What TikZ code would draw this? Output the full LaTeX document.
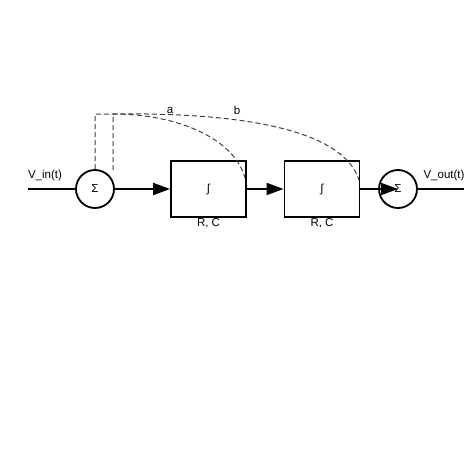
\documentclass[tikz,border=0pt]{standalone}
\usepackage{fontspec}
\setmainfont{Liberation Sans}
\usetikzlibrary{arrows.meta}
\begin{document}
\begin{tikzpicture}[x=1pt,y=-1pt,
  font=\fontsize{11.5}{13}\selectfont,
  sumnode/.style={circle,draw,line width=1.8pt,minimum size=38pt,inner sep=0pt},
  intbox/.style={rectangle,draw,line width=1.8pt,minimum width=75pt,minimum height=56pt,inner sep=0pt},
  wire/.style={line width=1.8pt},
  sigarrow/.style={wire,-{Triangle[length=17pt,width=12pt]}},
  fb/.style={draw=black!75,line width=1pt,dash pattern=on 5pt off 3pt},
  lbl/.style={inner sep=0pt}]
\useasboundingbox (0,0) rectangle (474,474);
\node[sumnode] (s1) at (95,189) {Σ};
\node[intbox] (b1) at (208.5,189) {∫};
\node[intbox] (b2) at (322,189) {∫};
\node[sumnode] (s2) at (398,189) {Σ};
\coordinate (in) at (28,189);
\coordinate (out) at (464,189);
\node[lbl] (vin) at (45,176) {V\_in(t)};
\node[lbl] (vout) at (444,176) {V\_out(t)};
\node[lbl] (rc1) at (208.5,223.5) {R, C};
\node[lbl] (rc2) at (322,223.5) {R, C};
\node[lbl] (la) at (170,110) {a};
\node[lbl] (lb) at (237,110) {b};
\draw[wire] (in) -- (s1.west);
\draw[sigarrow] (s1.east) -- (b1.west);
\draw[sigarrow] (b1.east) -- (b2.west);
\draw[sigarrow] (b2.east) -- (s2.center);
\draw[wire] (s2.east) -- (out);
% feedback paths
\coordinate (ta) at (95,114);
\coordinate (tb) at (113,114);
\coordinate (sa) at (113,170);
\coordinate (ea) at (245,178);
\coordinate (eb) at (359,180);
\draw[fb] (s1.north) -- (ta) -- (tb) .. controls (260,112) and (345,135) .. (eb);
\draw[fb] (sa) -- (tb) .. controls (180,114) and (235,140) .. (ea);
\end{tikzpicture}
\end{document}
